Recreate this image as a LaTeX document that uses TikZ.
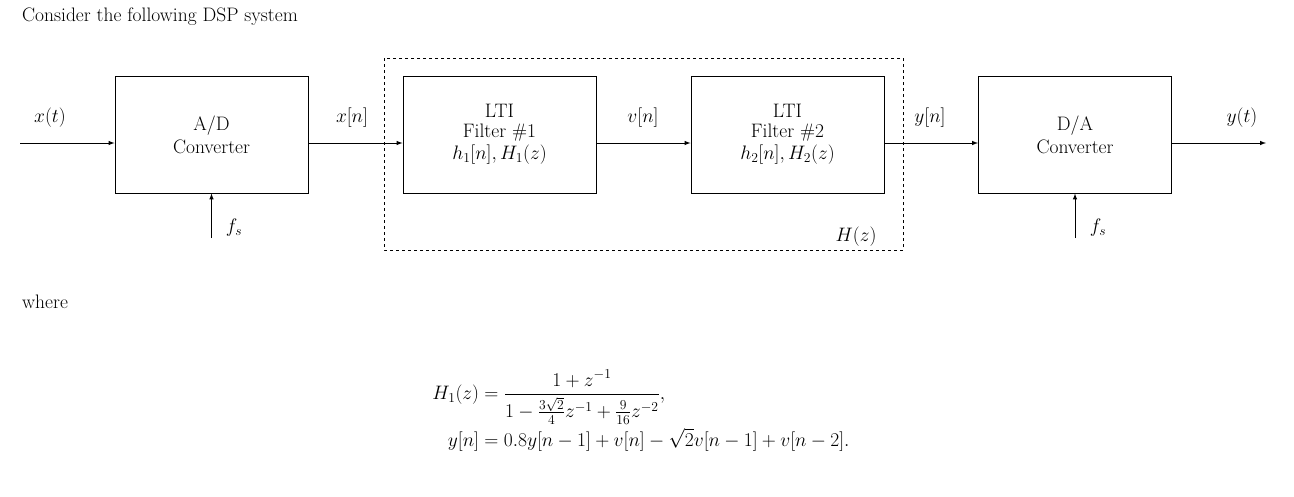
\RequirePackage{fix-cm}
\documentclass[tikz,border=0pt]{standalone}
\usepackage{amsmath}
\begin{document}
\begin{tikzpicture}[x=1pt,y=-1pt,
  every node/.style={font=\fontsize{19.5}{23}\selectfont},
  blk/.style={draw,line width=1pt,minimum width=193pt,minimum height=117pt,align=center,inner sep=0pt},
  sig/.style={line width=1pt,-latex},
  lbl/.style={inner sep=0pt}]
\useasboundingbox (0,0) rectangle (1294,496);
\node[lbl,anchor=west] (title) at (22,17) {Consider the following DSP system};
\node[blk] (ad) at (211.5,134.5) {A/D\\Converter};
\node[blk] (f1) at (499.5,134.5) {LTI\\[-3pt]Filter \#1\\[-1pt]$h_1[n], H_1(z)$};
\node[blk] (f2) at (787.5,134.5) {LTI\\[-3pt]Filter \#2\\[-1pt]$h_2[n], H_2(z)$};
\node[blk] (da) at (1075,134.5) {D/A\\Converter};
\draw[dashed,line width=1pt] (384,58) rectangle (903,250);
\coordinate (in) at (20,143);
\coordinate (out) at (1266,143);
\draw[sig] (in) -- (ad.west |- in);
\draw[sig] (ad.east |- in) -- (f1.west |- in);
\draw[sig] (f1.east |- in) -- (f2.west |- in);
\draw[sig] (f2.east |- in) -- (da.west |- in);
\draw[sig] (da.east |- in) -- (out);
\node[lbl] (lx) at (50,118) {$x(t)$};
\node[lbl] (lxn) at (352,118) {$x[n]$};
\node[lbl] (lv) at (643,118) {$v[n]$};
\node[lbl] (ly) at (930,118) {$y[n]$};
\node[lbl] (lyt) at (1242,118) {$y(t)$};
\coordinate (fa) at (211.5,238);
\coordinate (fb) at (1075,238);
\draw[sig] (fa) -- (ad.south);
\draw[sig] (fb) -- (da.south);
\node[lbl] (fsa) at (234,228) {$f_s$};
\node[lbl] (fsb) at (1098,228) {$f_s$};
\node[lbl] (hz) at (856,237) {$H(z)$};
\node[lbl,anchor=west] (where) at (22,302) {where};
\node[lbl] (eq) at (641,412) {$\begin{aligned}
H_1(z) &= \frac{1+z^{-1}}{1-\frac{3\sqrt2}{4}z^{-1}+\frac{9}{16}z^{-2}},\\
y[n] &= 0.8y[n-1]+v[n]-\sqrt2 v[n-1]+v[n-2].
\end{aligned}$};
\end{tikzpicture}
\end{document}
